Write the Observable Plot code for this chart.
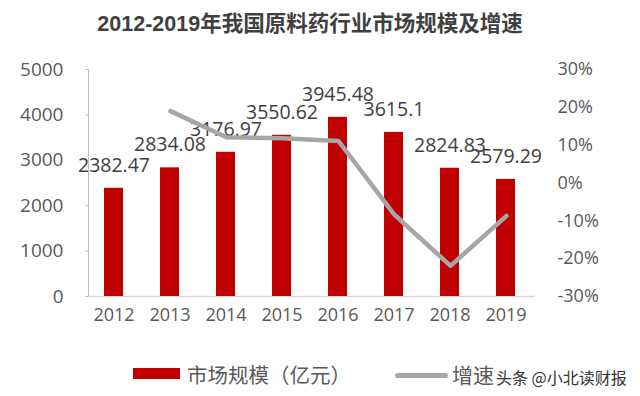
<!DOCTYPE html>
<html>
<head>
<meta charset="utf-8">
<script src="https://cdn.jsdelivr.net/npm/d3@7"></script>
<script src="https://cdn.jsdelivr.net/npm/@observablehq/plot@0.6"></script>
<style>
  body { margin: 0; background: #fff; width: 640px; height: 396px; overflow: hidden; position: relative; font-family: "Open Sans", "Noto Sans CJK SC", sans-serif; }
  #title { position: absolute; left: 0; top: 6px; width: 620px; text-align: center; font-family: "Liberation Sans", "Noto Sans CJK SC", sans-serif; font-weight: bold; font-size: 21.5px; color: #404040; white-space: nowrap; }
  #chart { position: absolute; left: 0; top: 48px; width: 640px; height: 290px; }
  #chart svg { position: absolute; left: 0; top: 0; }
  .leg { position: absolute; font-family: "Noto Sans CJK SC", sans-serif; color: #595959; font-size: 20.5px; line-height: 20px; white-space: nowrap; }
</style>
</head>
<body>
<div id="title">2012-2019年我国原料药行业市场规模及增速</div>
<div id="chart"></div>
<div style="position:absolute;left:133px;top:368px;width:47px;height:11px;background:#c00000"></div>
<div class="leg" style="left:187px;top:364px">市场规模（亿元）</div>
<div style="position:absolute;left:395px;top:373px;width:53px;height:5px;border-radius:3px;background:#a6a6a6"></div>
<div class="leg" style="left:452px;top:364px;font-size:21px">增速</div>
<div class="leg" style="left:496px;top:367px;font-size:16px;color:#333">头条 @小北读财报</div>
<script>
const years = ["2012","2013","2014","2015","2016","2017","2018","2019"];
const marketSize = [2382.47, 2834.08, 3176.97, 3550.62, 3945.48, 3615.1, 2824.83, 2579.29];
const growth = [null, 19.0, 12.1, 11.8, 11.1, -8.4, -21.9, -8.7];
const leftTicks = [0, 1000, 2000, 3000, 4000, 5000];
const rightTicks = [-30, -20, -10, 0, 10, 20, 30];

const barData = years.map((y, i) => ({year: y, value: marketSize[i]}));
const lineData = years.map((y, i) => ({year: y, g: growth[i]})).filter(d => d.g != null);

const common = {
  width: 640, height: 290,
  marginTop: 21, marginBottom: 42, marginLeft: 88, marginRight: 105,
  style: {fontFamily: "'Open Sans', sans-serif", background: "transparent"}
};

const bars = Plot.plot({
  ...common,
  x: {type: "band", domain: years, paddingInner: 0.66, paddingOuter: 0.33, insetLeft: -3, label: null},
  y: {domain: [0, 5000], label: null},
  marks: [
    Plot.frame({anchor: "left", stroke: "#bfbfbf"}),
    Plot.ruleY([0], {stroke: "#d9d9d9", strokeWidth: 1.5}),
    Plot.barY(barData, {x: "year", y: "value", fill: "#c00000"}),
    Plot.axisY(leftTicks, {anchor: "left", tickSize: 3, tickPadding: 22, fontSize: 19, stroke: "#bfbfbf", fill: "#595959", tickFormat: d => String(d), label: null}),
    Plot.axisX({anchor: "bottom", tickSize: 0, tickPadding: 12, fontSize: 18, fill: "#595959", label: null}),
    Plot.text(barData, {x: "year", y: "value", text: d => String(d.value), dy: -23, lineAnchor: "middle", fontSize: 19.5, fill: "#404040"})
  ]
});

const line = Plot.plot({
  ...common,
  x: {type: "point", domain: years, padding: 0.5, insetLeft: -3, axis: null},
  y: {domain: [-30, 30], label: null},
  marks: [
    Plot.line(lineData, {x: "year", y: "g", stroke: "#a6a6a6", strokeWidth: 4.5, strokeLinejoin: "round", strokeLinecap: "round"}),
    Plot.axisY(rightTicks, {anchor: "right", tickSize: 0, tickPadding: 22, fontSize: 18, fill: "#595959", tickFormat: d => d + "%", label: null})
  ]
});

const chart = document.getElementById("chart");
chart.appendChild(bars);
chart.appendChild(line);
</script>
</body>
</html>
